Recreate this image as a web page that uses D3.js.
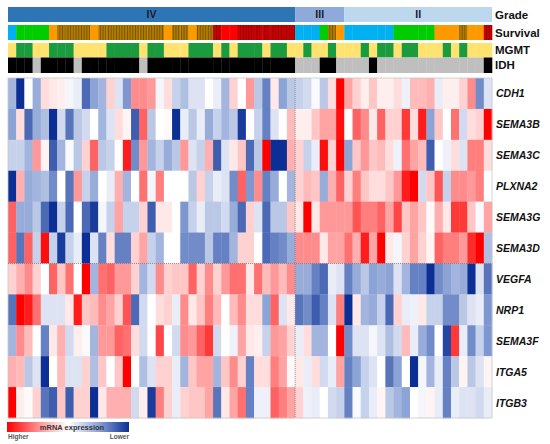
<!DOCTYPE html>
<html>
<head>
<meta charset="utf-8">
<script src="https://cdn.jsdelivr.net/npm/d3@7"></script>
<style>
  body { margin: 0; background: #fff; }
  svg { font-family: "Liberation Sans", Arial, sans-serif; }
</style>
</head>
<body>
<div id="chart"></div>
<script>
// sample annotations, one entry per column (59 samples)
var grade = "IV,IV,IV,IV,IV,IV,IV,IV,IV,IV,IV,IV,IV,IV,IV,IV,IV,IV,IV,IV,IV,IV,IV,IV,IV,IV,IV,IV,IV,IV,IV,IV,IV,IV,IV,III,III,III,III,III,III,II,II,II,II,II,II,II,II,II,II,II,II,II,II,II,II,II,II".split(",");
// survival groups 1..6
var survival = [1,2,2,2,2,3,4,4,4,4,3,4,4,4,4,4,4,4,4,3,4,4,3,4,4,5,6,6,5,5,5,5,5,5,5,
                1,1,1,2,4,3,
                1,1,1,1,1,1,2,2,2,2,2,3,3,3,4,3,3,5];
var mgmt = "U,M,M,U,U,M,M,M,U,U,U,U,M,M,M,M,U,M,M,U,U,U,M,M,M,U,M,U,M,M,M,U,M,M,U,U,M,U,U,M,U,U,U,M,U,M,M,U,M,M,U,U,U,M,U,M,U,U,U".split(",");
var idh = "mut,mut,mut,wt,mut,mut,mut,mut,wt,mut,mut,mut,mut,mut,mut,mut,wt,mut,mut,mut,mut,mut,mut,mut,mut,mut,mut,mut,mut,mut,mut,mut,mut,mut,mut,wt,wt,wt,mut,mut,wt,wt,wt,wt,mut,wt,wt,wt,wt,wt,wt,wt,wt,wt,wt,wt,wt,wt,mut".split(",");

var genes = ["CDH1", "SEMA3B", "SEMA3C", "PLXNA2", "SEMA3G", "SEMA3D", "VEGFA", "NRP1", "SEMA3F", "ITGA5", "ITGB3"];
var tracks = ["Grade", "Survival", "MGMT", "IDH"];

// relative mRNA expression, one row per gene
var expression = [
  [-0.8,-2,0,-0.9,0.3,0.2,0.15,-0.1,-0.2,-1.5,-1.0,-0.8,0.4,-0.3,-1.1,1.0,1.0,0.9,-0.1,0.3,
   -0.5,-0.7,-0.3,-0.3,0,-0.2,-0.8,0.4,0,0.9,-0.6,-1.3,0.2,-1.0,-0.6,-0.5,-0.4,-0.05,-0.6,0.3,
   2.0,0.8,0.4,0.15,0.5,0.15,0.15,0.3,-0.15,0.6,0.6,0.7,-0.2,0.15,0.15,0.4,1.0,-1.2,-0.3],
  [-1.0,0.3,-1.5,-0.9,-0.7,-2.0,-0.4,-1.4,-0.6,-0.4,0,-0.8,-0.3,0.3,0.1,-1.6,1.3,-0.6,0,0.05,
   -2.0,-0.2,-0.6,-0.2,-0.9,-0.5,-0.8,-0.6,-1.9,0,-0.5,-1.3,-0.3,0,0.6,0.15,0.15,0.5,0.8,0.8,
   1.9,0,1.3,1.0,0.2,1.3,0.4,0.4,1.6,0.3,1.8,-1.0,0.5,0,1.2,-0.4,0.3,0.4,2.0],
  [-0.5,-0.5,-0.8,0.9,0.1,-1.6,-0.8,-0.05,-0.6,0.4,1.3,-0.6,-0.5,0,1.8,-1.2,0.9,-0.8,-0.5,-0.9,
   -0.6,0.9,-0.3,-0.5,0.7,-1.6,-0.3,0.2,0.5,-1.5,-0.6,2.0,-2.0,-2.0,0.7,0.4,-0.5,-0.2,1.9,0.4,
   2.0,-1.0,0.5,0.9,0.5,0.6,0.3,-0.15,1.2,0.8,0.6,-1.6,0,-0.15,0.3,-0.3,1.1,1.1,0.3],
  [-2.0,0.7,-0.9,-0.8,-0.7,-1.2,0,-1.4,0.9,-0.5,-0.9,0,-0.2,0.7,-0.8,0,1.2,-0.1,1.1,0,
   0,0,-0.6,0.4,-0.5,-0.2,-0.3,-1.2,1.3,-1.1,1.0,-1.3,-0.9,0,-0.8,0.4,0.6,0.5,-0.9,0.7,
   1.3,0.4,1.1,0.5,0.3,0.3,0.5,0.9,1.8,2.0,-0.4,0.5,1.4,-0.5,1.0,1.0,0.9,1.1,0],
  [1.3,-0.9,-0.9,-0.6,-1.5,-2.0,-0.5,-1.5,0,-1.5,-1.9,-0.1,-0.5,0.8,-0.5,-0.5,0.4,-1.6,0.2,0.2,
   0,-1.1,-0.5,-0.2,-0.6,-0.6,-0.4,-0.9,-1.5,0.4,-0.3,-1.5,-0.6,-0.6,0.5,0.2,2.0,0.2,0.9,0.9,
   0.9,0.9,1.4,1.1,1.1,1.3,0.8,1.5,0.5,0.8,0.5,0.05,0.7,0.2,1.6,1.6,0.5,-0.05,0.8],
  [1.3,-1.4,1.3,-0.5,1.9,-0.5,-1.9,-0.5,-0.2,-2.0,-0.3,-1.3,0.3,-1.3,-1.3,0.4,0.8,-0.5,-0.8,0,
   0,-1.2,-1.2,-1.2,-0.6,-1.3,-1.3,-0.8,0.4,0.4,0,-1.5,-1.3,-1.2,-0.9,1.0,1.0,1.0,0.2,0.8,
   0.8,1.2,0.7,1.8,0.8,2.0,0.2,-0.1,0.4,0.8,0.4,0.1,1.3,1.1,1.1,0.9,1.7,2.0,-0.7],
  [0.4,0.7,1.0,0.4,0,1.3,0.5,1.2,0,2.0,-0.8,1.2,1.3,0.9,0.9,0.4,-0.8,-0.4,1.0,0.4,
   0.5,0.5,1.3,0.4,1.0,0.4,0.9,1.2,1.2,0.2,1.2,0.6,0.9,0.6,1.0,-0.9,-0.9,-1.3,-1.5,-0.2,
   -0.3,-1.3,-0.9,-0.6,-1.0,-0.9,-1.0,-0.3,-0.8,-1.3,-1.3,-2.0,-1.2,-1.0,-0.8,-0.9,-2.0,-0.3,-1.4],
  [-1.4,2.0,1.8,1.2,-0.3,-0.3,-0.3,0.2,1.8,0.5,0.6,1.0,0.8,0.4,1.4,-1.5,-0.4,0,0.3,0.4,
   -0.2,1.0,0.2,0.5,1.1,0.6,0,0.6,1.0,0.3,0.3,-1.0,1.3,-0.3,0.2,-1.4,-1.2,-1.6,-1.3,-0.3,
   1.1,-2.0,0.2,-0.8,-0.9,-0.5,-1.5,0.4,-0.2,-0.15,0.2,-0.5,-0.5,-1.2,-1.2,-0.6,-0.3,-0.2,-1.1],
  [-0.8,1.0,0.6,0,-1.3,0.2,0.7,-0.4,0.15,-0.05,-0.8,0.9,0.9,1.3,1.2,0.3,-0.4,0,1.5,0,
   -0.4,1.0,0.9,1.3,1.6,-0.4,0,-0.15,0.8,0.2,0.15,-0.5,0.9,0.8,0.4,-0.2,0.3,-0.8,-0.8,0,
   2.0,-1.2,-0.3,-0.3,-0.1,-0.3,-0.7,-0.4,0.6,-0.2,-0.9,-1.2,0,-1.8,1.6,-0.2,-1.2,-0.5,-1.1],
  [0.7,0.6,-0.6,-0.3,-2.0,0,0.6,-0.3,-0.3,0.4,-0.7,0.5,0,0.5,2.0,0,-0.7,-0.3,0.4,0.4,
   -0.2,-0.8,0.5,0.8,0.8,-0.8,0.5,1.0,0.4,-1.3,0.3,0.3,1.1,0.8,0.05,0.2,-0.2,0.3,-0.4,-0.2,
   0.8,-1.3,-1.0,-0.5,-0.3,0,-1.4,-1.0,0,-2.0,-0.1,-0.8,-0.2,-1.3,-0.6,0.1,-0.6,-0.3,0.1],
  [2.0,0.15,0.05,0.4,-1.4,-1.6,0.5,-1.6,0.4,0.4,-2.0,0.2,0.7,0.7,0.7,-0.4,0.15,-1.9,1.1,0.4,
   -0.2,0.4,0.5,0.5,0.8,-1.4,0.2,0.8,1.2,-1.3,-0.15,-0.15,1.3,1.1,0.8,0.4,-0.15,-0.2,0,-0.4,
   -0.5,-1.3,-0.05,-0.5,-0.2,0.1,-0.6,-0.8,-1.0,0,-0.1,0.1,-0.2,-1.3,-0.2,-0.3,-0.3,-0.4,-0.2]
];

var width = 550, height = 444;
var mapLeft = 8, mapRight = 492, mapTop = 78, mapBottom = 418;

var svg = d3.select("#chart").append("svg")
    .attr("width", width)
    .attr("height", height);

var defs = svg.append("defs");
// striped fills for the brown and dark red survival groups
function stripes(id, base, line) {
    var p = defs.append("pattern").attr("id", id)
        .attr("patternUnits", "userSpaceOnUse")
        .attr("width", 2.7).attr("height", 10);
    p.append("rect").attr("width", 2.7).attr("height", 10).attr("fill", base);
    p.append("rect").attr("width", 0.9).attr("height", 10).attr("fill", line);
}
stripes("brownStripe", "#b07a00", "#7a5400");
stripes("redStripe", "#d00000", "#8c0000");

var xScale = d3.scaleBand().domain(d3.range(grade.length)).range([mapLeft, mapRight]);
var yScale = d3.scaleBand().domain(genes).range([mapTop, mapBottom]);
var trackY = d3.scaleOrdinal().domain(tracks).range([7, 25, 43, 57.5]);
var trackH = d3.scaleOrdinal().domain(tracks).range([15, 15, 14.5, 15.5]);

var gradeColor = d3.scaleOrdinal().domain(["IV", "III", "II"]).range(["#2e75b6", "#8eaadb", "#bdd7ee"]);
var survColor = d3.scaleOrdinal().domain([1, 2, 3, 4, 5, 6])
    .range(["#00b0f0", "#00cc00", "#ff9900", "url(#brownStripe)", "url(#redStripe)", "#ff0000"]);
var mgmtColor = d3.scaleOrdinal().domain(["U", "M"]).range(["#ffe36e", "#1a9c3e"]);
var idhColor = d3.scaleOrdinal().domain(["mut", "wt"]).range(["#000000", "#bfbfbf"]);

var color = d3.scaleLinear()
    .domain([-2, -1, 0, 1, 2])
    .range(["#0b2f95", "#8ca3d6", "#ffffff", "#ff8c8c", "#ff0000"])
    .clamp(true);

// grade track: merged segments
var segs = [];
grade.forEach(function (g, i) {
    if (segs.length && segs[segs.length - 1].g === g) segs[segs.length - 1].end = i;
    else segs.push({g: g, start: i, end: i});
});
svg.append("g").selectAll("rect").data(segs).enter().append("rect")
    .attr("x", function (d) { return xScale(d.start); })
    .attr("width", function (d) { return xScale(d.end) + xScale.bandwidth() - xScale(d.start); })
    .attr("y", trackY("Grade"))
    .attr("height", trackH("Grade"))
    .attr("fill", function (d) { return gradeColor(d.g); });
svg.append("g").selectAll("text").data(segs).enter().append("text")
    .attr("x", function (d) { return (xScale(d.start) + xScale(d.end) + xScale.bandwidth()) / 2; })
    .attr("y", trackY("Grade") + trackH("Grade") / 2 + 3.5)
    .attr("text-anchor", "middle")
    .attr("font-size", 10.5).attr("font-weight", "bold").attr("fill", "#1a1a2a")
    .text(function (d) { return d.g; });

function track(name, values, scale) {
    svg.append("g").selectAll("rect").data(values).enter().append("rect")
        .attr("x", function (d, i) { return xScale(i); })
        .attr("width", xScale.bandwidth() + 0.3)
        .attr("y", trackY(name))
        .attr("height", trackH(name))
        .attr("fill", function (d) { return scale(d); });
}
track("Survival", survival, survColor);
track("MGMT", mgmt, mgmtColor);
track("IDH", idh, idhColor);

svg.append("g").selectAll("text").data(tracks).enter().append("text")
    .attr("x", 495)
    .attr("y", function (d) { return trackY(d) + trackH(d) / 2 + 4; })
    .attr("font-size", 11.5).attr("font-weight", "bold").attr("fill", "#111")
    .text(function (d) { return d; });

// heatmap cells
var cells = [];
expression.forEach(function (row, r) {
    row.forEach(function (v, c) { cells.push({gene: genes[r], col: c, v: v}); });
});
svg.append("g").selectAll("rect").data(cells).enter().append("rect")
    .attr("x", function (d) { return xScale(d.col); })
    .attr("y", function (d) { return yScale(d.gene); })
    .attr("width", xScale.bandwidth() + 0.3)
    .attr("height", yScale.bandwidth() + 0.3)
    .attr("fill", function (d) { return color(d.v); });

svg.append("rect")
    .attr("x", mapLeft).attr("y", mapTop)
    .attr("width", mapRight - mapLeft).attr("height", mapBottom - mapTop)
    .attr("fill", "none").attr("stroke", "#c8c8c8").attr("stroke-width", 0.8);

// dotted separators: grade IV | III and SEMA3D | VEGFA
var splitX = xScale(grade.indexOf("III"));
svg.append("line")
    .attr("x1", splitX).attr("x2", splitX).attr("y1", mapTop).attr("y2", mapBottom)
    .attr("stroke", "#777").attr("stroke-width", 0.8).attr("stroke-dasharray", "1,1");
var splitY = yScale("VEGFA");
svg.append("line")
    .attr("x1", mapLeft).attr("x2", mapRight).attr("y1", splitY).attr("y2", splitY)
    .attr("stroke", "#777").attr("stroke-width", 0.8).attr("stroke-dasharray", "1,1");

svg.append("g").selectAll("text").data(genes).enter().append("text")
    .attr("x", 496)
    .attr("y", function (d) { return yScale(d) + yScale.bandwidth() / 2 + 4; })
    .attr("font-size", 10.5).attr("font-weight", "bold").attr("font-style", "italic")
    .attr("fill", "#111")
    .text(function (d) { return d; });

// legend
var grad = defs.append("linearGradient").attr("id", "legendGrad");
grad.selectAll("stop").data([2, 1, 0, -1, -2]).enter().append("stop")
    .attr("offset", function (d, i) { return (i * 25) + "%"; })
    .attr("stop-color", function (d) { return color(d); });
svg.append("rect")
    .attr("x", 7).attr("y", 422).attr("width", 122).attr("height", 10)
    .attr("fill", "url(#legendGrad)");
svg.append("text").attr("x", 72).attr("y", 430).attr("text-anchor", "middle")
    .attr("font-size", 7.5).attr("font-weight", "bold").attr("fill", "#333")
    .text("mRNA expression");
svg.append("text").attr("x", 8).attr("y", 439)
    .attr("font-size", 6.5).attr("font-weight", "bold").attr("fill", "#555")
    .text("Higher");
svg.append("text").attr("x", 129).attr("y", 439).attr("text-anchor", "end")
    .attr("font-size", 6.5).attr("font-weight", "bold").attr("fill", "#555")
    .text("Lower");
</script>
</body>
</html>
